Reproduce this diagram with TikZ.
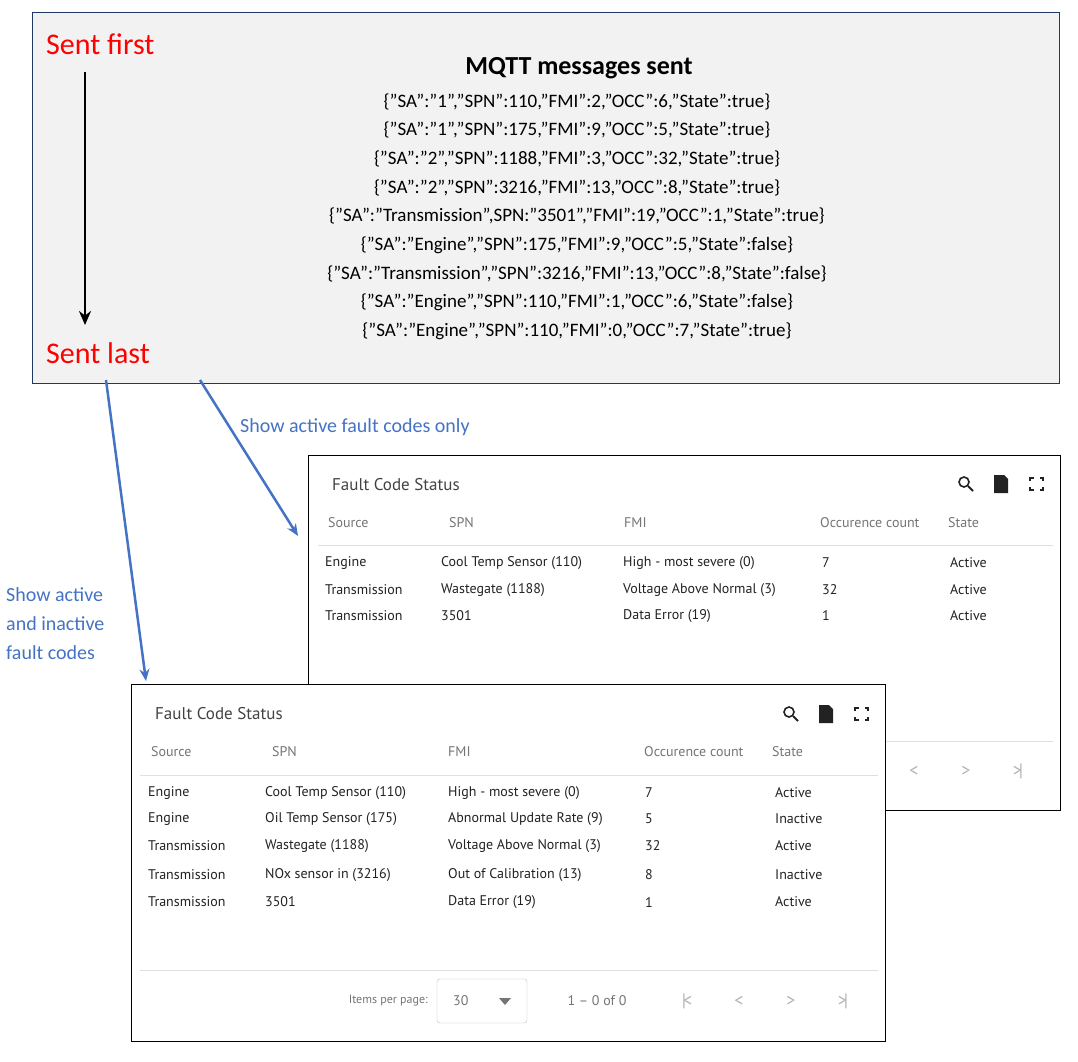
\documentclass[tikz,border=0pt]{standalone}
\usepackage{fontspec}
\usetikzlibrary{arrows.meta}
\setmainfont{Carlito}
\newfontfamily\ui{PT Sans}
\definecolor{navy}{HTML}{1F3864}
\definecolor{bl}{HTML}{4472C4}
\definecolor{hd}{HTML}{757575}
\definecolor{tx}{HTML}{222222}
\begin{document}
\begin{tikzpicture}[x=1pt,y=-1pt,
 msg/.style={font=\fontsize{19}{21}\selectfont,anchor=center,inner sep=0},
 red/.style={text=red,font=\fontsize{30}{32}\selectfont,anchor=west,inner sep=0},
 lbl/.style={text=bl,font=\fontsize{20}{22}\selectfont,anchor=west,inner sep=0},
 hdr/.style={text=hd,font=\ui\fontsize{14}{16}\selectfont,anchor=west,inner sep=0},
 cell/.style={text=tx,font=\ui\fontsize{14}{16}\selectfont,anchor=west,inner sep=0},
 ttl/.style={text=tx!85,font=\ui\fontsize{17}{19}\selectfont,anchor=west,inner sep=0},
 pg/.style={text=gray!60,font=\ui\fontsize{18}{20}\selectfont,inner sep=0},
 barr/.style={draw=bl,line width=2.5pt,-{Stealth[length=12pt,width=10pt]}}]
\useasboundingbox (0,0) rectangle (1078,1061);
% top box
\node[draw=navy,fill=gray!10,line width=1pt,minimum width=1027,minimum height=371,anchor=north west,inner sep=0] (top) at (32,12) {};
\node[red] (first) at (46,44) {Sent first};
\node[red] (last) at (46,353) {Sent last};
\coordinate (a1) at (85,72); \coordinate (a2) at (85,325);
\draw[red,line width=2.5pt,-{Stealth[length=14pt,width=12pt]}] (a1) -- (a2);
\node[msg,font=\bfseries\fontsize{26}{28}\selectfont] (title) at (579,68) {MQTT messages sent};
\foreach \y/\t in {102/{\{”SA”:”1”,”SPN”:110,”FMI”:2,”OCC”:6,”State”:true\}},
 130/{\{”SA”:”1”,”SPN”:175,”FMI”:9,”OCC”:5,”State”:true\}},
 159/{\{”SA”:”2”,”SPN”:1188,”FMI”:3,”OCC”:32,”State”:true\}},
 188/{\{”SA”:”2”,”SPN”:3216,”FMI”:13,”OCC”:8,”State”:true\}},
 216/{\{”SA”:”Transmission”,SPN:”3501”,”FMI”:19,”OCC”:1,”State”:true\}},
 245/{\{”SA”:”Engine”,”SPN”:175,”FMI”:9,”OCC”:5,”State”:false\}},
 274/{\{”SA”:”Transmission”,”SPN”:3216,”FMI”:13,”OCC”:8,”State”:false\}},
 302/{\{”SA”:”Engine”,”SPN”:110,”FMI”:1,”OCC”:6,”State”:false\}},
 331/{\{”SA”:”Engine”,”SPN”:110,”FMI”:0,”OCC”:7,”State”:true\}}}
 \node[msg] at (577,\y) {\t};
% labels
\node[lbl] (l1) at (240,427) {Show active fault codes only};
\node[lbl,align=left,anchor=north west,font=\fontsize{20}{29}\selectfont] (l2) at (6,587) {Show active\\and inactive\\fault codes};
% table 1
\node[draw,fill=white,line width=1pt,minimum width=752,minimum height=355,anchor=north west,inner sep=0] (t1) at (308,455) {};
\node[ttl] at (332,485) {Fault Code Status};
\foreach \x/\t in {328/Source,449/SPN,624/FMI,820/Occurence count,948/State} \node[hdr] at (\x,523) {\t};
\draw[gray!25,line width=1pt] (318,545) -- (1053,545);
\draw[gray!25,line width=1pt] (318,741) -- (1053,741);
\foreach \y/\a/\b/\c/\d in {563/Engine/Cool Temp Sensor (110)/High - most severe (0)/7,590/Transmission/Wastegate (1188)/Voltage Above Normal (3)/32,616/Transmission/3501/Data Error (19)/1}{
 \node[cell] at (325,\y) {\a}; \node[cell] at (441,\y) {\b}; \node[cell] at (623,\y) {\c}; \node[cell] at (822,\y) {\d}; \node[cell] at (950,\y) {Active};}
\foreach \x/\t in {914/{<},966/{>},1018/{>\!|}} \node[pg] at (\x,771) {\t};
% table 2
\node[draw,fill=white,line width=1pt,minimum width=754,minimum height=357,anchor=north west,inner sep=0] (t2) at (131,684) {};
\node[ttl] at (155,714) {Fault Code Status};
\foreach \x/\t in {151/Source,272/SPN,448/FMI,644/Occurence count,772/State} \node[hdr] at (\x,752) {\t};
\draw[gray!25,line width=1pt] (140,775) -- (878,775);
\draw[gray!25,line width=1pt] (140,970) -- (878,970);
\foreach \y/\a/\b/\c/\d/\e in {793/Engine/Cool Temp Sensor (110)/High - most severe (0)/7/Active,819/Engine/Oil Temp Sensor (175)/Abnormal Update Rate (9)/5/Inactive,846/Transmission/Wastegate (1188)/Voltage Above Normal (3)/32/Active,875/Transmission/NOx sensor in (3216)/Out of Calibration (13)/8/Inactive,902/Transmission/3501/Data Error (19)/1/Active}{
 \node[cell] at (148,\y) {\a}; \node[cell] at (265,\y) {\b}; \node[cell] at (448,\y) {\c}; \node[cell] at (645,\y) {\d}; \node[cell] at (775,\y) {\e};}
\node[hdr,anchor=east,font=\ui\fontsize{12}{14}\selectfont] at (428,1001) {Items per page:};
\draw[gray!50,rounded corners=3pt] (437,979) rectangle (527,1023);
\node[cell,text=hd] at (453,1001) {30};
\fill[hd] (499,998) -- (511,998) -- (505,1005) -- cycle;
\node[hdr,anchor=center] at (597,1001) {1 – 0 of 0};
\foreach \x/\t in {687/{|\!<},739/{<},791/{>},843/{>\!|}} \node[pg] at (\x,1001) {\t};
% icons
\foreach \ox/\oy in {966/484,791/714}{
 \draw[tx,line width=1.6pt] (\ox-2,\oy-2) circle (5);
 \draw[tx,line width=1.8pt] (\ox+2,\oy+2) -- (\ox+7,\oy+7);
 \fill[tx] (\ox+28,\oy-9) -- (\ox+38,\oy-9) -- (\ox+42,\oy-5) -- (\ox+42,\oy+9) -- (\ox+28,\oy+9) -- cycle;
 \draw[tx,line width=1.5pt] (\ox+64,\oy-3) |- (\ox+68,\oy-6) (\ox+74,\oy-6) -| (\ox+77,\oy-3) (\ox+77,\oy+3) |- (\ox+74,\oy+6) (\ox+68,\oy+6) -| (\ox+64,\oy+3);}
% connectors
\coordinate (s1) at (200,380); \coordinate (e1) at (298,536);
\coordinate (s2) at (106,380); \coordinate (e2) at (146,681);
\draw[barr] (s1) -- (e1);
\draw[barr] (s2) -- (e2);
\end{tikzpicture}
\end{document}
